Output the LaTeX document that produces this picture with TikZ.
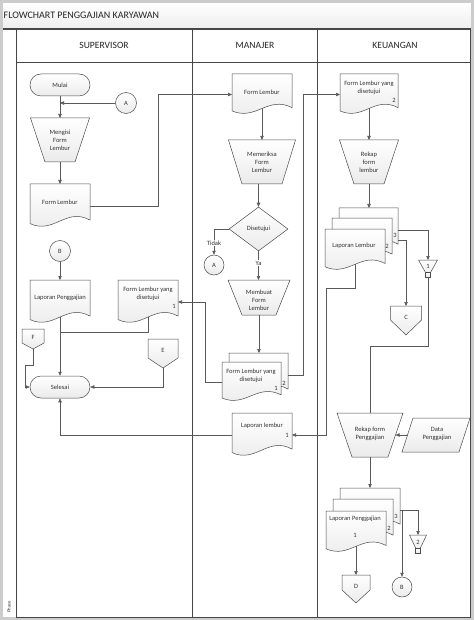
\documentclass[tikz,border=0pt]{standalone}
\usepackage{fontspec}
\setmainfont{Carlito}
\usetikzlibrary{arrows.meta,shapes.geometric,calc}

\tikzset{
 shp/.style={draw=gray!60!black, line width=0.5pt, top color=white, bottom color=gray!16},
 box/.style={inner sep=0pt, outer sep=0pt, draw=none},
 txt/.style={font=\fontsize{6.5}{7.8}\selectfont, align=center, inner sep=0pt, text=black!80},
 con/.style={draw=gray!70!black, line width=0.55pt},
 arr/.style={con, -{Triangle[length=4pt,width=3.4pt]}},
 term/.style={shp, txt, rounded corners=11pt, minimum width=60pt, minimum height=22pt},
 conn/.style={shp, txt, circle, minimum size=21pt},
 lbl/.style={txt, fill=white, inner sep=0.6pt},
 hdr/.style={font=\fontsize{9.6}{11}\selectfont, inner sep=0pt, text=black!85},
 lane/.style={draw=gray!55!black, line width=0.6pt},
}

% document shape: name, left, top, width, height
\newcommand\DocS[5]{%
 \path[shp] (#2,#3) -- ++(#4,0) -- ++(0,0.82*#5) .. controls +(-0.4*#4,-0.3*#5) and +(0.4*#4,0.25*#5) .. (#2,#3+0.9*#5) -- cycle;
 \node[box, anchor=north west, minimum width=#4pt, minimum height=#5pt] (#1) at (#2,#3) {};
 \coordinate (#1-b) at (#2+#4/2,#3+0.84*#5);
}
% manual operation: name, cx, top, top width, bottom width, height
\newcommand\ManOp[6]{%
 \path[shp] (#2-#4/2,#3) -- (#2+#4/2,#3) -- (#2+#5/2,#3+#6) -- (#2-#5/2,#3+#6) -- cycle;
 \pgfmathsetmacro\mopw{(#4+#5)/2}%
 \node[box, minimum width=\mopw pt, minimum height=#6pt] (#1) at (#2,#3+#6/2) {};
}
% off-page connector: name, cx, top, width, rect height, total height
\newcommand\OffPg[6]{%
 \path[shp] (#2-#4/2,#3) -- (#2+#4/2,#3) -- (#2+#4/2,#3+#5) -- (#2,#3+#6) -- (#2-#4/2,#3+#5) -- cycle;
 \node[box, minimum width=#4pt, minimum height=#6pt] (#1) at (#2,#3+#6/2) {};
}
% file triangle: name, cx, top, width, height
\newcommand\TriF[5]{%
 \path[shp] (#2-#4/2,#3) -- (#2+#4/2,#3) -- (#2,#3+#5) -- cycle;
 \path[shp] (#2-2.5,#3+#5-5) rectangle (#2+2.5,#3+#5);
 \node[box, minimum width=#4pt, minimum height=#5pt] (#1) at (#2,#3+#5/2) {};
}
% parallelogram: name, cx, cy, mid width, height, skew
\newcommand\Para[6]{%
 \path[shp] (#2-#4/2+#6,#3-#5/2) -- (#2+#4/2+#6,#3-#5/2) -- (#2+#4/2-#6,#3+#5/2) -- (#2-#4/2-#6,#3+#5/2) -- cycle;
 \node[box, minimum width=#4pt, minimum height=#5pt] (#1) at (#2,#3) {};
}

\begin{document}
\begin{tikzpicture}[x=1pt,y=-1pt]
\useasboundingbox (0,0) rectangle (474,620);
\fill[white] (0,0) rectangle (474,620);
% ---------- frame ----------
\shade[top color=white, bottom color=gray!14] (3,3) rectangle (471,29);
\draw[gray!40, line width=3pt] (1.5,1.5) rectangle (472.5,618.5);
\draw[gray!55!black, line width=1.2pt] (3,29) -- (471,29);
\node[hdr, font=\fontsize{10}{12}\selectfont, anchor=west] (title) at (3.5,15) {FLOWCHART PENGGAJIAN KARYAWAN};
\draw[lane, line width=0.7pt] (16,29) -- (16,617) -- (470,617) -- (470,29);
\draw[lane] (16,62) -- (470,62);
\draw[lane] (192.5,29) -- (192.5,617);
\draw[lane] (317.5,29) -- (317.5,617);
\node[hdr] (hsup) at (104,45) {SUPERVISOR};
\node[hdr] (hman) at (255,45) {MANAJER};
\node[hdr] (hkeu) at (395,45) {KEUANGAN};
\node[txt, rotate=90, font=\fontsize{4.8}{5}\selectfont] (phase) at (9,607) {Phase};

% ---------- SUPERVISOR ----------
\node[term] (Mulai) at (60,85) {Mulai};
\node[conn] (A1) at (126,103) {A};
\ManOp{Mengisi}{60}{118}{59}{30}{44}
\node[txt] (tMengisi) at (60,140) {Mengisi\\Form\\Lembur};
\DocS{FL1}{30}{184}{60}{44}
\node[txt] (tFL1) at (60,202) {Form Lembur};
\node[conn] (B1) at (60,251) {B};
\DocS{LP}{30}{280}{60}{44}
\node[txt] (tLP) at (60,298) {Laporan Penggajian};
\DocS{FLS1}{118}{280}{60}{44}
\node[txt] (tFLS1) at (148,294) {Form Lembur yang\\disetujui};
\node[txt] (nFLS1) at (174,306) {1};
\OffPg{F}{33}{329}{22}{14}{20}
\node[txt] (tF) at (33,337) {F};
\OffPg{E}{163}{339}{30}{19}{29}
\node[txt] (tE) at (163,350) {E};
\node[term] (Selesai) at (60,387) {Selesai};

% ---------- MANAJER ----------
\DocS{FL2}{232}{74}{60}{41}
\node[txt] (tFL2) at (262,92) {Form Lembur};
\ManOp{Mem}{262}{140}{67}{40}{44}
\node[txt] (tMem) at (262,162) {Memeriksa\\Form\\Lembur};
\node[shp, txt, diamond, aspect=1.34, minimum width=59pt, minimum height=44pt] (Dis) at (258.5,229) {Disetujui};
\node[conn, minimum size=20pt] (A2) at (214,265) {A};
\ManOp{Mem2}{259}{280}{62}{34}{35}
\node[txt] (tMem2) at (259,300) {Membuat\\Form\\Lembur};
\DocS{FLS2b}{229}{353}{59}{44}
\DocS{FLS2a}{222}{362}{59}{40}
\node[txt] (tFLS2) at (251,376) {Form Lembur yang\\disetujui};
\node[txt] (nFLS2a) at (276,388) {1};
\node[txt] (nFLS2b) at (284,383) {2};
\DocS{LL2}{232}{413}{60}{44}
\node[txt] (tLL2) at (262,426) {Laporan lembur};
\node[txt] (nLL2) at (287,435) {1};

% ---------- KEUANGAN ----------
\DocS{FLS3}{340}{74}{58}{41}
\node[txt] (tFLS3) at (369,88) {Form Lembur yang\\disetujui};
\node[txt] (nFLS3) at (394,100) {2};
\ManOp{Rek}{369}{140}{59}{30}{44}
\node[txt] (tRek) at (369,162) {Rekap\\form\\lembur};
\DocS{LL3c}{339}{208}{59}{44}
\DocS{LL3b}{332}{218}{60}{44}
\DocS{LL3a}{325}{229}{60}{42}
\node[txt] (tLL3) at (354,246) {Laporan Lembur};
\node[txt] (nLL3b) at (387,246) {2};
\node[txt] (nLL3c) at (395,235) {3};
\TriF{T1}{428}{260}{19}{17}
\node[txt] (tT1) at (428,266) {1};
\OffPg{C}{406}{306}{31}{14}{29}
\node[txt] (tC) at (406,317) {C};
\ManOp{RP}{370}{413}{66}{36}{44}
\node[txt] (tRP) at (370,434) {Rekap form\\Penggajian};
\Para{DP}{436}{435}{57}{34}{5.5}
\node[txt] (tDP) at (437,434) {Data\\Penggajian};
\DocS{LPGc}{340}{488}{60}{44}
\DocS{LPGb}{333}{499}{60}{44}
\DocS{LPGa}{326}{511}{60}{42}
\node[txt] (tLPG) at (355,519) {Laporan Penggajian};
\node[txt] (nLPGa) at (355,535) {1};
\node[txt] (nLPGb) at (389,528) {2};
\node[txt] (nLPGc) at (396,516) {3};
\TriF{T2}{418}{535}{17}{18}
\node[txt] (tT2) at (418,542) {2};
\node[conn, minimum size=20pt] (B2) at (402,587) {B};
\OffPg{D}{356}{575}{28}{15}{28}
\node[txt] (tD) at (356,586) {D};

% ---------- connectors ----------
\draw[arr] (Mulai.south) -- (Mengisi.north);
\draw[arr] (A1.west) -- (A1.west -| Mulai.south);
\draw[arr] (Mengisi.south) -- (FL1.north);
\draw[arr] (FL1.east) -- ++(68,0) |- (FL2.west);
\draw[arr] (FL2-b) -- (FL2-b |- Mem.north);
\draw[arr] (Dis.north |- Mem.south) -- (Dis.north);
\draw[arr] (Dis.west) -| (A2.north);
\node[lbl] (lTidak) at (214,243) {Tidak};
\draw[arr] (Dis.south) -- (Dis.south |- Mem2.north);
\node[lbl] (lYa) at (258.5,263) {Ya};
\draw[arr] (Mem2.south) -- (Mem2.south |- FLS2b.north);
\draw[arr] (FLS2a.west) -- ++(-17,0) |- (FLS1.east);
\draw[arr] (FLS2b.east) -- ++(15,0) |- (FLS3.west);
\draw[arr] (FLS3-b) -- (FLS3-b |- Rek.north);
\draw[arr] (Rek.south) -- (Rek.south |- LL3c.north);
\draw[arr] (LL3c.east) -| (T1.north);
\draw[arr] (LL3c.east |- LL3b.east) -| (C.north);
\coordinate (j1) at (428,346);
\draw[con] (T1.south) -- (j1) -| (RP.north);
\coordinate (j2) at (326,288);
\draw[arr] (LL3a-b) |- (j2) |- (LL2.east);
\draw[arr] (LL2.west) -| (Selesai.south);
\draw[arr] (DP.west) -- (RP.east);
\draw[arr] (RP.south) -- (RP.south |- LPGc.north);
\draw[arr] (LPGc.east) -| (T2.north);
\draw[arr] (LPGc.east) -| (B2.north);
\draw[arr] (LPGa-b) -- (LPGa-b |- D.north);
\draw[arr] (B1.south) -- (LP.north);
\draw[arr] (LP-b) -- (Selesai.north);
\coordinate (j3) at (60,332);
\draw[con] (FLS1-b) |- (j3);
\coordinate (j4) at (25,365);
\draw[arr] (F.south) |- (j4) |- (Selesai.west);
\draw[arr] (E.south) |- (Selesai.east);
\end{tikzpicture}
\end{document}
